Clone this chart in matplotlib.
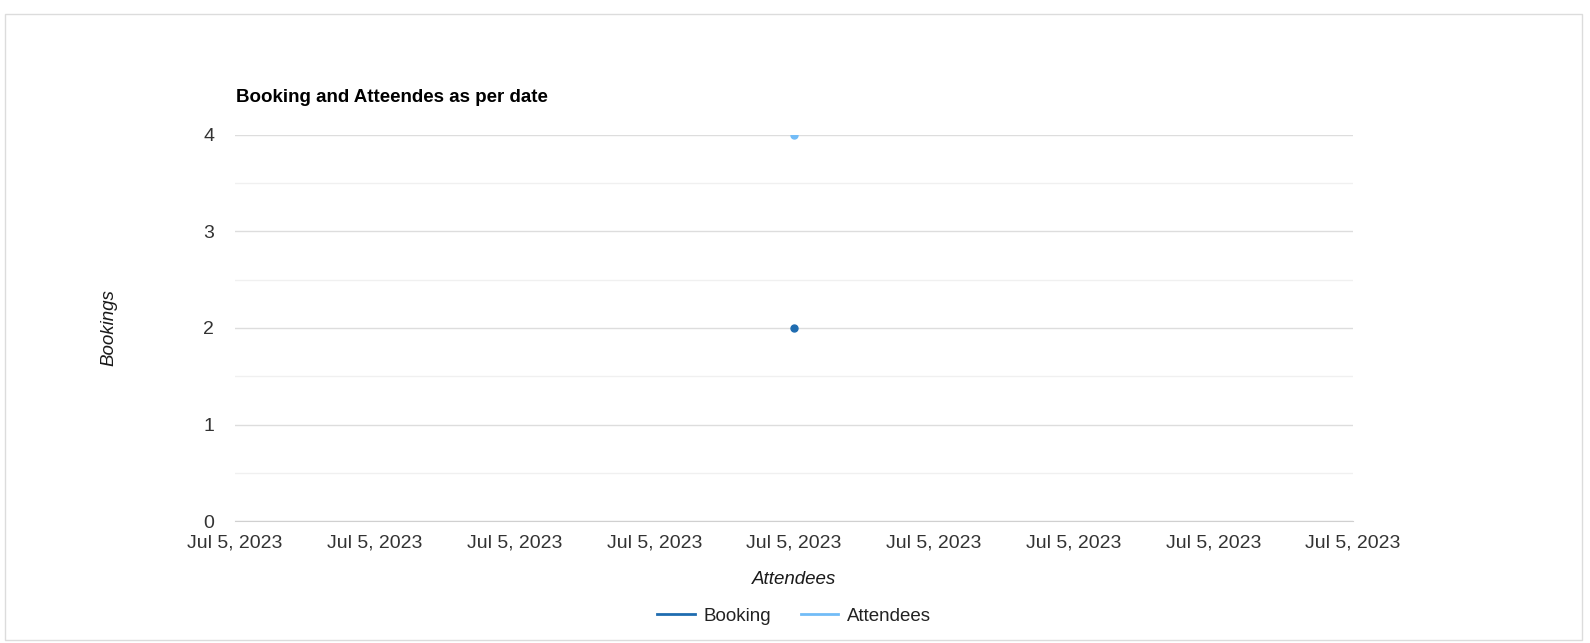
import datetime as dt

import matplotlib
matplotlib.use("Agg")
import matplotlib.pyplot as plt
import matplotlib.dates as mdates
from matplotlib.patches import Rectangle
from matplotlib.ticker import MultipleLocator

plt.rcParams["font.family"] = ["Liberation Sans", "DejaVu Sans"]

# data: one day, one value per series
dates = [dt.datetime(2023, 7, 5, 12, 0)]
bookings = [2]
attendees = [4]

title = "Booking and Atteendes as per date"
x_label = "Attendees"
y_label = "Bookings"
series_names = ["Booking", "Attendees"]
colors = ["#1f6cb0", "#72bcf7"]

fig = plt.figure(figsize=(15.9, 6.43), dpi=100)

# light frame around the whole chart
fig.patches.append(Rectangle((5 / 1590, 3 / 643), 1577 / 1590, 626 / 643,
                             transform=fig.transFigure, fill=False,
                             edgecolor="#dcdcdc", linewidth=1))

ax = fig.add_axes([235 / 1590, 122 / 643, 1118 / 1590, 386 / 643])

ax.plot(dates, bookings, color=colors[0], linewidth=2, marker="o",
        markersize=5, label=series_names[0])
ax.plot(dates, attendees, color=colors[1], linewidth=2, marker="o",
        markersize=5, label=series_names[1])

# x axis: hourly ticks around the single date, all showing the same day
ax.set_xlim(dates[0] - dt.timedelta(hours=4), dates[0] + dt.timedelta(hours=4))
ax.xaxis.set_major_locator(mdates.HourLocator(interval=1))
ax.xaxis.set_major_formatter(mdates.DateFormatter("%b %-d, %Y"))

ax.set_ylim(0, 4)
ax.yaxis.set_major_locator(MultipleLocator(1))
ax.yaxis.set_minor_locator(MultipleLocator(0.5))

ax.grid(True, which="major", axis="y", color="#dddddd", linewidth=1)
ax.grid(True, which="minor", axis="y", color="#f0f0f0", linewidth=1)
ax.set_axisbelow(True)

for side in ["top", "right", "left"]:
    ax.spines[side].set_visible(False)
ax.spines["bottom"].set_color("#d0d0d0")

ax.tick_params(axis="x", which="both", length=0, pad=10, labelsize=14,
               labelcolor="#333333")
ax.tick_params(axis="y", which="both", length=0, pad=15, labelsize=14,
               labelcolor="#333333")

fig.text(236 / 1590, 1 - 97 / 643, title, fontsize=13.5, fontweight="bold",
         ha="left", va="center", color="#000000")
fig.text(109 / 1590, 1 - 328 / 643, y_label, fontsize=13.5, fontstyle="italic",
         rotation=90, ha="center", va="center", color="#1a1a1a")
fig.text(794 / 1590, 1 - 579 / 643, x_label, fontsize=13.5, fontstyle="italic",
         ha="center", va="center", color="#1a1a1a")

handles = [plt.Line2D([], [], color=c, linewidth=2) for c in colors]
fig.legend(handles, series_names, loc="center", ncol=2,
           bbox_to_anchor=(794 / 1590, 1 - 616 / 643), frameon=False,
           fontsize=13.5, handlelength=2.0, handletextpad=0.45,
           columnspacing=1.6, labelcolor="#222222")

fig.savefig("out.png", dpi=100)
